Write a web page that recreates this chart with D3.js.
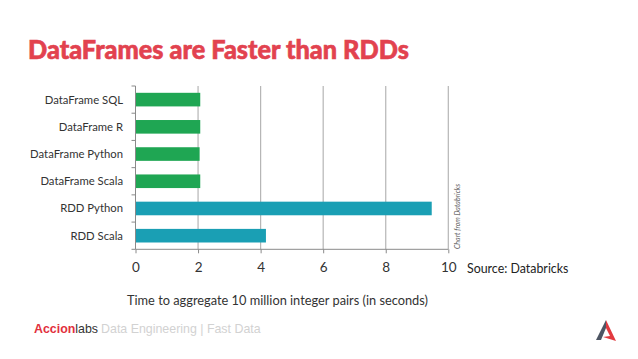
<!DOCTYPE html>
<html><head><meta charset="utf-8">
<script src="https://cdn.jsdelivr.net/npm/d3@7"></script>
<style>body{margin:0;background:#fff;}svg{display:block;}</style>
</head><body>
<svg id="c" width="638" height="359"></svg>
<script>
const categories = ["DataFrame SQL","DataFrame R","DataFrame Python","DataFrame Scala","RDD Python","RDD Scala"];
const values = [2.07, 2.07, 2.05, 2.07, 9.47, 4.17];
const groups = ["DataFrame","DataFrame","DataFrame","DataFrame","RDD","RDD"];
const xTicks = [0,2,4,6,8,10];
const colorMap = {DataFrame:"#1fa653", RDD:"#1a9fb4"};

const svg = d3.select("#c");
const x = d3.scaleLinear().domain([0,10]).range([135.5,448.3]);
const y = d3.scaleBand().domain(categories).range([86,249.3]).paddingInner(0.5).paddingOuter(0.25);

// title
svg.append("text").attr("x",28).attr("y",59).attr("fill","#e2424f")
  .attr("font-family","Lato").attr("font-weight",900).attr("font-size",26)
  .attr("textLength",381).attr("lengthAdjust","spacingAndGlyphs")
  .attr("stroke","#e2424f").attr("stroke-width",0.6)
  .text("DataFrames are Faster than RDDs");

// grid
svg.append("g").selectAll("line").data(xTicks.filter(d=>d>0)).join("line")
  .attr("x1",d=>x(d)).attr("x2",d=>x(d)).attr("y1",86).attr("y2",249.3)
  .attr("stroke","#b5b5b5").attr("stroke-width",1.2);

// bars
svg.append("g").selectAll("rect").data(categories).join("rect")
  .attr("x",x(0)).attr("y",d=>y(d)).attr("height",y.bandwidth())
  .attr("width",(d,i)=>x(values[i])-x(0))
  .attr("fill",(d,i)=>colorMap[groups[i]]);

// y axis
const yAxis = svg.append("g").attr("transform",`translate(${x(0)},0)`);
yAxis.append("line").attr("x1",0).attr("x2",0).attr("y1",86).attr("y2",249.3).attr("stroke","#8a8a8a");
const yTickPos = d3.range(categories.length+1).map(i=>86+i*(163.3/6));
yAxis.selectAll("line.t").data(yTickPos).join("line").attr("class","t")
  .attr("x1",-4).attr("x2",0).attr("y1",d=>d).attr("y2",d=>d).attr("stroke","#8a8a8a");
yAxis.selectAll("text").data(categories).join("text")
  .attr("x",-12.5).attr("y",d=>y(d)+y.bandwidth()/2).attr("dy","0.35em")
  .attr("text-anchor","end").attr("font-family","Lato").attr("font-size",11.3)
  .attr("fill","#333").text(d=>d);

// x axis
const xAxis = d3.axisBottom(x).tickValues(xTicks).tickSize(4).tickPadding(9).tickFormat(d3.format("d"));
const gx = svg.append("g").attr("transform","translate(0,249.3)").call(xAxis);
gx.select(".domain").attr("stroke","#8a8a8a").attr("d",`M${x(0)},0H${x(10)}`);
gx.selectAll(".tick line").attr("stroke","#8a8a8a");
gx.selectAll(".tick text").attr("font-family","Lato").attr("font-size",13.5).attr("fill","#333");

// source
svg.append("text").attr("x",467).attr("y",273).attr("font-family","Lato").attr("font-size",12.4)
  .attr("fill","#222").text("Source: Databricks");
svg.append("text").attr("transform","translate(459.5,249) rotate(-90)")
  .attr("font-family","Lato").attr("font-style","italic").attr("font-size",7)
  .attr("fill","#555").text("Chart from Databricks");

// x title
svg.append("text").attr("x",127).attr("y",305).attr("font-family","Lato").attr("font-size",12.8)
  .attr("fill","#333").text("Time to aggregate 10 million integer pairs (in seconds)");

// footer
const f = svg.append("text").attr("x",34).attr("y",333).attr("font-family","Liberation Sans, Arial").attr("font-size",12.4);
f.append("tspan").attr("fill","#e2303d").attr("font-weight","bold").text("Accion");
f.append("tspan").attr("fill","#333").text("labs");
f.append("tspan").attr("fill","#d2d2d2").attr("dx",3).text("Data Engineering | Fast Data");

// logo
const lg = svg.append("g").attr("transform","translate(595,320)");
lg.append("path").attr("d","M11,0 L1,20 L6,20 L11,8 Z").attr("fill","#4d5563");
lg.append("path").attr("d","M11,0 L11,8 L15,16 L8,17 L21,21 Z").attr("fill","#e23a3f");
</script>
</body></html>
